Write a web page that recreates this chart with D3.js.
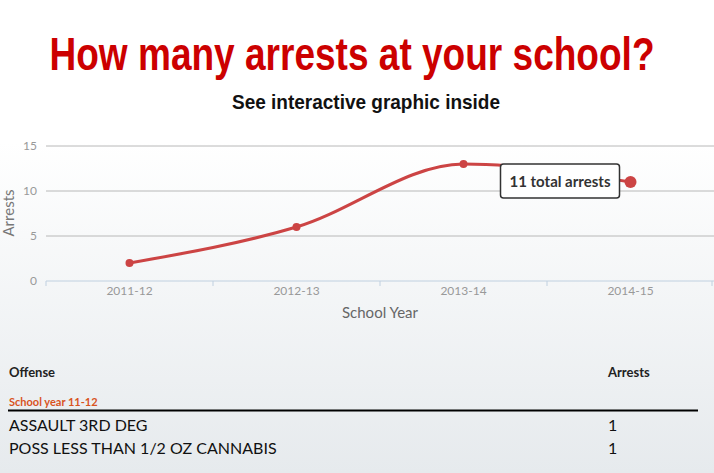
<!DOCTYPE html>
<html><head><meta charset="utf-8">
<script src="https://cdn.jsdelivr.net/npm/d3@7"></script>
<style>
body{margin:0;overflow:hidden}
</style></head><body>
<script>
let w = 714, h = 473;
let years = ["2011-12", "2012-13", "2013-14", "2014-15"];
let arrests = [2, 6, 13, 11];
let yTicks = [0, 5, 10, 15];
let offenses = ["ASSAULT 3RD DEG", "POSS LESS THAN 1/2 OZ CANNABIS"];
let offenseCounts = [1, 1];

let svg = d3.select("body").append("svg").attr("width", w).attr("height", h);

let defs = svg.append("defs");
let grad = defs.append("linearGradient").attr("id", "bg").attr("x1", 0).attr("y1", 0).attr("x2", 0).attr("y2", 1);
grad.append("stop").attr("offset", "0").attr("stop-color", "#ffffff");
grad.append("stop").attr("offset", "0.3").attr("stop-color", "#ffffff");
grad.append("stop").attr("offset", "1").attr("stop-color", "#e6eaed");
svg.append("rect").attr("width", w).attr("height", h).attr("fill", "url(#bg)");

// titles, squeezed to look condensed
svg.append("text").attr("x", 352).attr("y", 70).attr("text-anchor", "middle")
    .attr("font-family", "Liberation Sans, sans-serif")
    .attr("font-weight", "bold").attr("font-size", "46px")
    .attr("textLength", 605).attr("lengthAdjust", "spacingAndGlyphs")
    .attr("fill", "#cc0000").text("How many arrests at your school?");
svg.append("text").attr("x", 366).attr("y", 109).attr("text-anchor", "middle")
    .attr("font-family", "Liberation Sans, sans-serif")
    .attr("font-weight", "bold").attr("font-size", "21px")
    .attr("textLength", 268).attr("lengthAdjust", "spacingAndGlyphs")
    .attr("fill", "#111").text("See interactive graphic inside");

let xScale = d3.scaleBand().domain(years).range([46, 714]);
let yScale = d3.scaleLinear().domain([0, 15]).range([281, 146]);

// grid
svg.selectAll(".grid").data(yTicks.filter(d => d > 0)).enter().append("line")
    .attr("x1", 46).attr("x2", w).attr("y1", d => yScale(d)).attr("y2", d => yScale(d))
    .attr("stroke", "#b8b8b8").attr("stroke-width", 1);
svg.append("line").attr("x1", 46).attr("x2", w).attr("y1", yScale(0)).attr("y2", yScale(0))
    .attr("stroke", "#c0d0e0");
svg.selectAll(".xt").data(years.map(d => xScale(d)).concat([xScale.range()[1] - 2])).enter().append("line")
    .attr("x1", d => d).attr("x2", d => d).attr("y1", yScale(0)).attr("y2", yScale(0) + 5)
    .attr("stroke", "#c0d0e0");

svg.selectAll(".yl").data(yTicks).enter().append("text")
    .attr("x", 37).attr("y", d => yScale(d) + 4).attr("text-anchor", "end")
    .attr("font-family", "Lato, sans-serif").attr("font-size", "12px").attr("fill", "#999")
    .text(d => d);
svg.selectAll(".xl").data(years).enter().append("text")
    .attr("x", d => xScale(d) + xScale.bandwidth() / 2).attr("y", 295).attr("text-anchor", "middle")
    .attr("font-family", "Lato, sans-serif").attr("font-size", "12px").attr("fill", "#999")
    .text(d => d);
svg.append("text").attr("x", 380).attr("y", 318).attr("text-anchor", "middle")
    .attr("font-family", "Lato, sans-serif").attr("font-size", "15px").attr("fill", "#666").text("School Year");
svg.append("text").attr("transform", "translate(14,213) rotate(-90)").attr("text-anchor", "middle")
    .attr("font-family", "Lato, sans-serif").attr("font-size", "15px").attr("fill", "#777").text("Arrests");

let line = d3.line().x((d, i) => xScale(years[i]) + xScale.bandwidth() / 2).y(d => yScale(d))
    .curve(d3.curveMonotoneX);
svg.append("path").datum(arrests).attr("d", line).attr("fill", "none")
    .attr("stroke", "#cc4444").attr("stroke-width", 3);
svg.selectAll(".pt").data(arrests).enter().append("circle")
    .attr("cx", (d, i) => xScale(years[i]) + xScale.bandwidth() / 2).attr("cy", d => yScale(d))
    .attr("r", (d, i) => i === arrests.length - 1 ? 6 : 4).attr("fill", "#cc4444");

// tooltip
let last = arrests.length - 1;
let tx = xScale(years[last]) + xScale.bandwidth() / 2;
svg.append("rect").attr("x", tx - 130).attr("y", yScale(arrests[last]) - 18).attr("width", 119).attr("height", 34)
    .attr("rx", 3).attr("fill", "#fff").attr("stroke", "#333").attr("stroke-width", 1.5);
svg.append("text").attr("x", tx - 70.5).attr("y", yScale(arrests[last]) + 5).attr("text-anchor", "middle")
    .attr("font-family", "Lato, sans-serif").attr("font-weight", "bold").attr("font-size", "15px")
    .attr("fill", "#333").text(arrests[last] + " total arrests");

// table
let tf = "Lato, sans-serif";
svg.append("text").attr("x", 9).attr("y", 377).attr("font-family", tf).attr("font-size", "13px").attr("font-weight", "bold").attr("fill", "#222").text("Offense");
svg.append("text").attr("x", 608).attr("y", 377).attr("font-family", tf).attr("font-size", "13px").attr("font-weight", "bold").attr("fill", "#222").text("Arrests");
svg.append("text").attr("x", 9).attr("y", 406).attr("font-family", tf).attr("font-size", "11px").attr("font-weight", "bold").attr("fill", "#d9531e").text("School year 11-12");
svg.append("line").attr("x1", 8).attr("x2", 698).attr("y1", 410.5).attr("y2", 410.5).attr("stroke", "#000").attr("stroke-width", 2);
svg.selectAll(".off").data(offenses).enter().append("text")
    .attr("x", 9).attr("y", (d, i) => 431 + i * 23).attr("font-family", tf).attr("font-size", "16px").attr("fill", "#111").text(d => d);
svg.selectAll(".cnt").data(offenseCounts).enter().append("text")
    .attr("x", 608).attr("y", (d, i) => 431 + i * 23).attr("font-family", tf).attr("font-size", "16px").attr("fill", "#111").text(d => d);
</script>
</body></html>
